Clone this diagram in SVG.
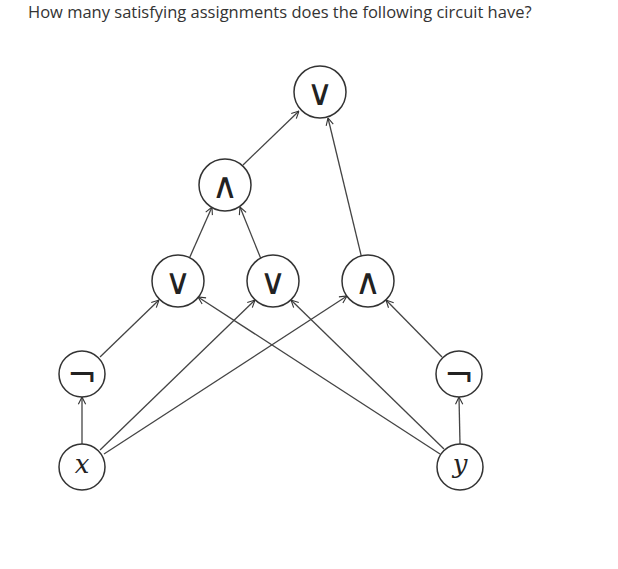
<svg xmlns="http://www.w3.org/2000/svg" width="618" height="569" viewBox="0 0 618 569">
<defs><marker id="a" viewBox="0 0 10 10" refX="10" refY="5" markerWidth="7" markerHeight="7" orient="auto"><path d="M2,1 L10,5 L2,9" fill="none" stroke="#333" stroke-width="1.2"/></marker></defs>
<style>.n circle{fill:#fff;stroke:#333;stroke-width:1.5}.n text{font-family:"DejaVu Sans",sans-serif;font-size:36px;text-anchor:middle;dominant-baseline:central;fill:#222}.n text.v{font-family:"DejaVu Serif",serif;font-style:italic;font-size:26px}.e line{stroke:#444;stroke-width:1.3;marker-end:url(#a)}</style>
<rect width="618" height="569" fill="#fff"/>
<text x="28" y="18" font-family="Open Sans, sans-serif" font-size="16.5" fill="#333">How many satisfying assignments does the following circuit have?</text>
<g class="e">
<line x1="82" y1="444" x2="82" y2="397"/>
<line x1="100" y1="357" x2="159" y2="300"/>
<line x1="100" y1="450" x2="255" y2="300"/>
<line x1="104" y1="454" x2="347" y2="296"/>
<line x1="460" y1="444" x2="459" y2="397"/>
<line x1="442" y1="357" x2="386" y2="300"/>
<line x1="440" y1="454" x2="198" y2="297"/>
<line x1="444" y1="449" x2="291" y2="300"/>
<line x1="189" y1="259" x2="212" y2="207"/>
<line x1="261" y1="259" x2="240" y2="207"/>
<line x1="243" y1="165" x2="299" y2="111"/>
<line x1="362" y1="259" x2="328" y2="118"/>
</g>
<g id="or1" class="n"><circle cx="320" cy="92" r="26"/><text x="320" y="92">∨</text></g>
<g id="and1" class="n"><circle cx="225" cy="185" r="26"/><text x="225" y="185">∧</text></g>
<g id="or2" class="n"><circle cx="178" cy="281" r="26"/><text x="178" y="281">∨</text></g>
<g id="or3" class="n"><circle cx="273" cy="281" r="26"/><text x="273" y="281">∨</text></g>
<g id="and2" class="n"><circle cx="368" cy="281" r="26"/><text x="368" y="281">∧</text></g>
<g id="notx" class="n"><circle cx="82" cy="374" r="23"/><text x="82" y="374">¬</text></g>
<g id="noty" class="n"><circle cx="459" cy="374" r="23"/><text x="459" y="374">¬</text></g>
<g id="x" class="n"><circle cx="82" cy="467" r="23"/><text class="v" x="82" y="464">x</text></g>
<g id="y" class="n"><circle cx="460" cy="467" r="23"/><text class="v" x="460" y="464">y</text></g>
</svg>
